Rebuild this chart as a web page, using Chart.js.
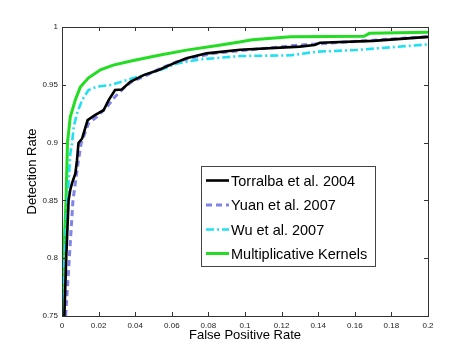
<!DOCTYPE html>
<html><head><meta charset="utf-8">
<script src="https://cdn.jsdelivr.net/npm/chart.js@4/dist/chart.umd.min.js"></script>
<style>html,body{margin:0;padding:0;background:#fff}#wrap{width:474px;height:356px}</style>
</head><body><div id="wrap"><canvas id="c" width="474" height="356"></canvas></div>
<script>
const xTickValues = [0, 0.02, 0.04, 0.06, 0.08, 0.1, 0.12, 0.14, 0.16, 0.18, 0.2];
const xTickLabels = ['0', '0.02', '0.04', '0.06', '0.08', '0.1', '0.12', '0.14', '0.16', '0.18', '0.2'];
const yTickValues = [0.75, 0.8, 0.85, 0.9, 0.95, 1];
const yTickLabels = ['0.75', '0.8', '0.85', '0.9', '0.95', '1'];
const seriesNames = ['Torralba et al. 2004', 'Yuan et al. 2007', 'Wu et al. 2007', 'Multiplicative Kernels'];

const torralbaX = [0.0013, 0.0023, 0.0036, 0.0045, 0.0055, 0.0073, 0.0082, 0.009, 0.011, 0.014, 0.018, 0.0227, 0.0255, 0.029, 0.0327, 0.0373, 0.0446, 0.0528, 0.061, 0.068, 0.079, 0.0974, 0.13, 0.138, 0.141, 0.17, 0.2];
const torralbaY = [0.75, 0.80, 0.85, 0.859, 0.865, 0.8733, 0.8848, 0.8996, 0.9036, 0.9195, 0.9238, 0.928, 0.9368, 0.9455, 0.946, 0.9526, 0.9584, 0.9628, 0.9685, 0.9729, 0.9772, 0.9803, 0.983, 0.9844, 0.9864, 0.988, 0.9915];

const yuanX = [0.002, 0.004, 0.006, 0.009, 0.0105, 0.0145, 0.019, 0.0246, 0.029, 0.0336, 0.038, 0.0464, 0.0537, 0.0628, 0.0737, 0.0828, 0.0974, 0.13, 0.16, 0.2];
const yuanY = [0.75, 0.80, 0.85, 0.885, 0.8996, 0.9166, 0.9223, 0.931, 0.9397, 0.947, 0.9526, 0.9584, 0.9642, 0.970, 0.9743, 0.9772, 0.9795, 0.9844, 0.9875, 0.9916];

const wuX = [0.0003, 0.0014, 0.003, 0.0045, 0.0055, 0.0064, 0.0082, 0.011, 0.0145, 0.019, 0.0264, 0.0355, 0.0446, 0.0537, 0.0628, 0.0755, 0.0974, 0.125, 0.139, 0.161, 0.172, 0.2];
const wuY = [0.75, 0.80, 0.85, 0.89, 0.8996, 0.9137, 0.9252, 0.9368, 0.9455, 0.9483, 0.9498, 0.9541, 0.9584, 0.9628, 0.9685, 0.972, 0.9749, 0.9755, 0.9786, 0.9801, 0.9815, 0.985];

const mkX = [0, 0.0009, 0.0022, 0.003, 0.0045, 0.0073, 0.01, 0.0145, 0.021, 0.028, 0.039, 0.053, 0.068, 0.085, 0.097, 0.104, 0.125, 0.165, 0.168, 0.2];
const mkY = [0.75, 0.80, 0.85, 0.90, 0.922, 0.937, 0.948, 0.956, 0.963, 0.967, 0.971, 0.9755, 0.980, 0.984, 0.987, 0.989, 0.9915, 0.992, 0.9945, 0.9954];

const pts = (xs, ys) => xs.map((x, i) => ({x: x, y: ys[i]}));
const FONT = "'Liberation Sans', Arial, Helvetica, sans-serif";

const styles = [
  {color: '#000000', width: 2.6, dash: []},
  {color: '#7f84e6', width: 3, dash: [6, 4]},
  {color: '#22e0f0', width: 2.6, dash: [8, 3, 2, 3]},
  {color: '#22dd22', width: 3, dash: []}
];
const seriesData = [pts(torralbaX, torralbaY), pts(yuanX, yuanY), pts(wuX, wuY), pts(mkX, mkY)];

const boxTicks = {
  id: 'boxTicks',
  afterDraw(chart) {
    const {ctx, chartArea: a, scales: {x, y}} = chart;
    ctx.save();
    ctx.strokeStyle = '#333';
    ctx.lineWidth = 1;
    ctx.beginPath();
    xTickValues.forEach((v, i) => {
      if (i === 0 || i === xTickValues.length - 1) return;
      const px = Math.round(x.getPixelForValue(v)) + 0.5;
      ctx.moveTo(px, a.bottom); ctx.lineTo(px, a.bottom - 4);
      ctx.moveTo(px, a.top); ctx.lineTo(px, a.top + 4);
    });
    yTickValues.forEach((v, i) => {
      if (i === 0 || i === yTickValues.length - 1) return;
      const py = Math.round(y.getPixelForValue(v)) + 0.5;
      ctx.moveTo(a.left, py); ctx.lineTo(a.left + 4, py);
      ctx.moveTo(a.right, py); ctx.lineTo(a.right - 4, py);
    });
    ctx.stroke();
    ctx.strokeRect(Math.round(a.left) + 0.5, Math.round(a.top) + 0.5, Math.round(a.right - a.left), Math.round(a.bottom - a.top));

    // legend
    const lx = 201.5, ly = 166.5, lw = 174, lh = 100;
    ctx.fillStyle = '#fff';
    ctx.fillRect(lx, ly, lw, lh);
    ctx.strokeStyle = '#444';
    ctx.strokeRect(lx, ly, lw, lh);
    const rows = [180.5, 205, 229.5, 253.5];
    ctx.font = '14.5px ' + FONT;
    ctx.textBaseline = 'middle';
    ctx.textAlign = 'left';
    chart.data.datasets.forEach((ds, i) => {
      const st = styles[i];
      ctx.beginPath();
      ctx.strokeStyle = st.color;
      ctx.lineWidth = st.width;
      ctx.setLineDash(st.dash);
      ctx.moveTo(206, rows[i]); ctx.lineTo(229, rows[i]);
      ctx.stroke();
      ctx.setLineDash([]);
      ctx.fillStyle = '#000';
      ctx.fillText(ds.label, 231, rows[i] + 1);
    });
    ctx.restore();
  }
};

new Chart(document.getElementById('c'), {
  type: 'scatter',
  data: {
    datasets: seriesData.map((d, i) => ({
      label: seriesNames[i],
      data: d,
      showLine: true,
      borderColor: styles[i].color,
      backgroundColor: styles[i].color,
      borderWidth: styles[i].width,
      borderDash: styles[i].dash,
      pointRadius: 0,
      tension: 0,
      fill: false
    }))
  },
  options: {
    responsive: false,
    animation: false,
    layout: {padding: {top: 27, right: 46, left: 0, bottom: 0}},
    plugins: {legend: {display: false}, tooltip: {enabled: false}},
    scales: {
      x: {
        type: 'linear', min: 0, max: 0.2,
        afterFit(s) { s.height = 40; },
        afterBuildTicks(s) { s.ticks = xTickValues.map(v => ({value: v})); },
        grid: {display: false, drawTicks: false},
        border: {display: false},
        ticks: {
          padding: 5, color: '#222', font: {family: FONT, size: 8},
          maxRotation: 0, autoSkip: false,
          callback: (v, i) => xTickLabels[i]
        },
        title: {display: true, text: 'False Positive Rate', color: '#000', font: {family: FONT, size: 13}, padding: {top: 0, bottom: 12.5}}
      },
      y: {
        type: 'linear', min: 0.75, max: 1,
        afterFit(s) { s.width = 62; },
        afterBuildTicks(s) { s.ticks = yTickValues.map(v => ({value: v})); },
        grid: {display: false, drawTicks: false},
        border: {display: false},
        ticks: {
          padding: 4, color: '#222', font: {family: FONT, size: 8},
          autoSkip: false,
          callback: (v, i) => yTickLabels[i]
        },
        title: {display: true, text: 'Detection Rate', color: '#000', font: {family: FONT, size: 13}, padding: {top: 25, bottom: 0}}
      }
    }
  },
  plugins: [boxTicks]
});
</script>
</body></html>
